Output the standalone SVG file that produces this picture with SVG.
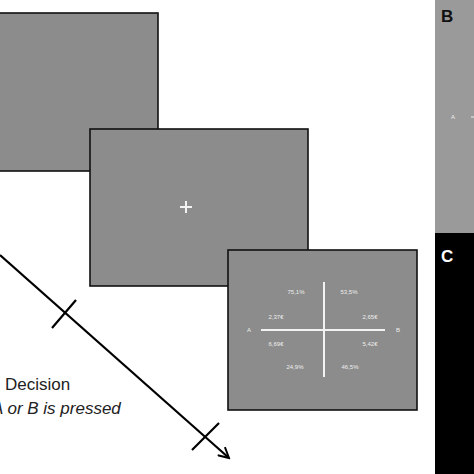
<svg xmlns="http://www.w3.org/2000/svg" width="474" height="474" viewBox="0 0 474 474">
<style>
.scr{fill:#8c8c8c;stroke:#111;stroke-width:1.6}
.w{stroke:#f2f2f2;stroke-width:2;fill:none}
.sm{font-family:"Liberation Sans",Arial,sans-serif;font-size:6px;fill:#eee;text-anchor:middle;dominant-baseline:central}
.ax{stroke:#000;stroke-width:2.2;fill:none}
.lbl{font-family:"Liberation Sans",Arial,sans-serif;font-size:17px;fill:#222}
</style>
<defs>
<marker id="ah" viewBox="0 0 12 12" refX="10.5" refY="6" markerWidth="13" markerHeight="13" markerUnits="userSpaceOnUse" orient="auto">
<path d="M1,1 L10.5,6 L1,11" fill="none" stroke="#000" stroke-width="1.8"/>
</marker>
</defs>
<rect width="474" height="474" fill="#fff"/>
<g id="screen1"><rect class="scr" x="-10" y="13" width="168" height="158"/></g>
<g id="screen2"><rect class="scr" x="90" y="129" width="218" height="157"/>
<path class="w" d="M180,207 H192 M186,201 V213"/></g>
<g id="screen3"><rect class="scr" x="228" y="250" width="189" height="160"/>
<path class="w" d="M324,282 V377 M261,330 H385"/>
<text class="sm" x="249" y="330">A</text>
<text class="sm" x="398" y="330">B</text>
<text class="sm" x="296" y="292">75,1%</text>
<text class="sm" x="349" y="292">53,5%</text>
<text class="sm" x="276" y="317">2,37€</text>
<text class="sm" x="370" y="317">2,65€</text>
<text class="sm" x="276" y="344">6,69€</text>
<text class="sm" x="370" y="344">5,42€</text>
<text class="sm" x="295" y="367">24,9%</text>
<text class="sm" x="350" y="367">46,5%</text>
</g>
<g id="panelB"><rect x="435" y="0" width="39" height="233" fill="#9a9a9a"/>
<text x="441" y="22" font-family="Liberation Sans,Arial,sans-serif" font-weight="bold" font-size="17" fill="#111">B</text>
<text class="sm" x="453" y="117" font-size="7">A</text>
<path d="M471,117 H474" stroke="#eee" stroke-width="1"/></g>
<g id="panelC"><rect x="435" y="233" width="39" height="241" fill="#000"/>
<text x="441" y="262" font-family="Liberation Sans,Arial,sans-serif" font-weight="bold" font-size="17" fill="#fff">C</text></g>
<g id="connectors">
<path class="ax" d="M0,255 L229,458" marker-end="url(#ah)"/>
<path class="ax" d="M52,328 L76,300 M192,450 L219,423"/>
</g>
<g id="labels">
<text class="lbl" x="5" y="390">Decision</text>
<text class="lbl" x="-8" y="414" font-style="italic">A or B is pressed</text>
</g>
</svg>
